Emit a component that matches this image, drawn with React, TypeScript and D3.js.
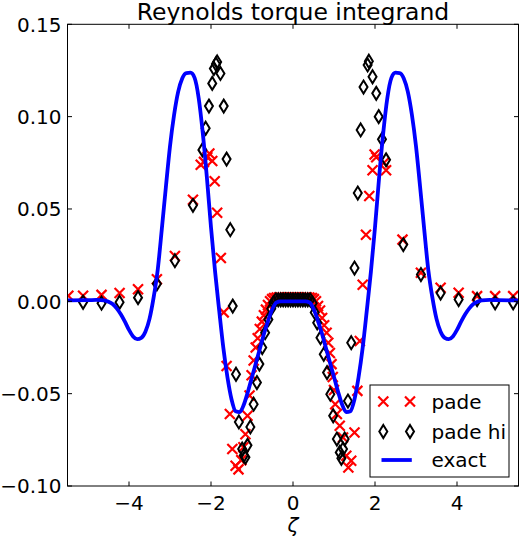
import * as d3 from 'd3';

// exact curve
const exactX = [
  -5.5, -5.0, -4.8, -4.6, -4.5, -4.4, -4.3, -4.2, -4.1, -4.0, -3.9, -3.8, -3.7, -3.6, -3.5, -3.4, -3.3, -3.2, -3.1, -3.0,
  -2.9, -2.8, -2.7, -2.6, -2.5, -2.4, -2.3, -2.2, -2.1, -2.0, -1.9, -1.8, -1.7, -1.6, -1.5, -1.4, -1.3, -1.2, -1.1, -1.0,
  -0.9, -0.8, -0.7, -0.6, -0.5, -0.4, -0.3, 0.0, 0.3, 0.4, 0.5, 0.6, 0.7, 0.8, 0.9, 1.0, 1.1, 1.2, 1.3, 1.4, 1.5, 1.6,
  1.7, 1.8, 1.9, 2.0, 2.1, 2.2, 2.3, 2.4, 2.5, 2.6, 2.7, 2.8, 2.9, 3.0, 3.1, 3.2, 3.3, 3.4, 3.5, 3.6, 3.7, 3.8, 3.9,
  4.0, 4.1, 4.2, 4.3, 4.4, 4.5, 4.6, 4.8, 5.0, 5.5,
];
const exactY = [
  0.0005, 0.0006, 0.0008, 0.0005, -0.0002, -0.0015, -0.0038, -0.007, -0.011, -0.0155, -0.019, -0.0205, -0.0198, -0.0165, -0.0095, 0.002, 0.017, 0.039, 0.062, 0.084,
  0.101, 0.1135, 0.1208, 0.1236, 0.1238, 0.121, 0.11, 0.091, 0.067, 0.04, 0.016, -0.005, -0.025, -0.041, -0.053, -0.0595, -0.06, -0.056, -0.049, -0.041,
  -0.033, -0.025, -0.017, -0.01, -0.004, -0.0006, 0.0, 0.0, 0.0, -0.0006, -0.004, -0.01, -0.017, -0.025, -0.033, -0.041, -0.049, -0.056, -0.06, -0.0595, -0.053, -0.041,
  -0.025, -0.005, 0.016, 0.04, 0.067, 0.091, 0.11, 0.121, 0.1238, 0.1236, 0.1208, 0.1135, 0.101, 0.084, 0.062, 0.039, 0.017, 0.002, -0.0095, -0.0165, -0.0198, -0.0205, -0.019,
  -0.0155, -0.011, -0.007, -0.0038, -0.0015, -0.0002, 0.0005, 0.0008, 0.0006, 0.0005,
];

// pade (red crosses)
const padeX = [
  -5.48, -5.12, -4.67, -4.23, -3.78, -3.32, -2.88, -2.44, -2.25, -2.17, -2.09, -2.04, -1.97, -1.91, -1.85, -1.76, -1.69, -1.62,
  -1.54, -1.48, -1.4, -1.33, -1.26, -1.21, -1.16, -1.11, -1.06, -1.01, -0.96, -0.91, -0.86, -0.81, -0.76, -0.71, -0.66, -0.61,
  -0.56, -0.51, -0.46, -0.4, -0.35, -0.3, -0.25, -0.2, -0.15, -0.1, -0.05, 0.0, 0.05, 0.1, 0.15, 0.2, 0.25, 0.3, 0.35, 0.4,
  0.46, 0.51, 0.56, 0.61, 0.66, 0.71, 0.76, 0.82, 0.86, 0.9, 0.94, 0.97, 1.0, 1.03, 1.07, 1.14, 1.22, 1.3, 1.35, 1.42, 1.5,
  1.57, 1.63, 1.7, 1.78, 1.86, 1.94, 1.99, 2.03, 2.22, 2.27, 2.67, 3.12, 3.6, 4.04, 4.49, 4.93, 5.37,
];
const padeY = [
  0.003, 0.003, 0.0035, 0.0045, 0.0065, 0.012, 0.0245, 0.055, 0.074, 0.0755, 0.078, 0.08, 0.076, 0.065, 0.048, 0.0235, -0.006, -0.035,
  -0.061, -0.08, -0.089, -0.091, -0.086, -0.079, -0.072, -0.062, -0.051, -0.04, -0.032, -0.025, -0.02, -0.015, -0.011, -0.0075, -0.0045, -0.002,
  0.0, 0.0012, 0.0018, 0.002, 0.002, 0.002, 0.002, 0.002, 0.002, 0.002, 0.002, 0.002, 0.002, 0.002, 0.002, 0.002, 0.002, 0.002, 0.002, 0.002,
  0.0018, 0.0012, 0.0, -0.0025, -0.005, -0.009, -0.013, -0.017, -0.0224, -0.028, -0.034, -0.041, -0.048, -0.0557, -0.061, -0.0674, -0.0737, -0.0836, -0.09, -0.0863, -0.071,
  -0.0485, -0.0215, 0.009, 0.036, 0.057, 0.071, 0.0795, 0.078, 0.075, 0.071, 0.0334, 0.0155, 0.0073, 0.0046, 0.0028, 0.0028, 0.0028,
];

// pade hi (black thin diamonds)
const padeHiX = [
  -5.12, -4.67, -4.23, -3.78, -3.32, -2.88, -2.44, -2.21, -2.13, -2.05, -1.97, -1.93, -1.88, -1.85, -1.77, -1.69, -1.62, -1.53,
  -1.47, -1.39, -1.32, -1.24, -1.2, -1.16, -1.11, -1.04, -0.96, -0.88, -0.82, -0.75, -0.68, -0.6, -0.53, -0.48,
  -0.42, -0.36, -0.3, -0.24, -0.18, -0.12, -0.06, 0.0, 0.06, 0.12, 0.18, 0.24, 0.3, 0.36, 0.42,
  0.48, 0.53, 0.59, 0.67, 0.75, 0.83, 0.91, 0.98, 1.07, 1.14, 1.18, 1.22, 1.26, 1.34, 1.42, 1.5, 1.58, 1.65, 1.72, 1.82,
  1.85, 1.94, 2.03, 2.09, 2.17, 2.27, 2.69, 3.12, 3.6, 4.04, 4.49, 4.93, 5.37,
];
const padeHiY = [
  -0.0005, -0.001, -0.0005, 0.002, 0.0095, 0.022, 0.052, 0.082, 0.0937, 0.1057, 0.118, 0.126, 0.1285, 0.1296, 0.1234, 0.1057, 0.077, 0.0388,
  -0.0026, -0.0395, -0.0653, -0.08, -0.0835, -0.0845, -0.078, -0.068, -0.0557, -0.044, -0.034, -0.025, -0.017, -0.0098, -0.004, -0.0008,
  0.0008, 0.0008, 0.0008, 0.0008, 0.0008, 0.0008, 0.0008, 0.0008, 0.0008, 0.0008, 0.0008, 0.0008, 0.0008, 0.0008, 0.0008,
  -0.001, -0.006, -0.0116, -0.0197, -0.0287, -0.0386, -0.0503, -0.062, -0.0746, -0.0818, -0.085, -0.08, -0.0746, -0.054, -0.0224, 0.018, 0.0586, 0.0928, 0.116, 0.128,
  0.13, 0.1216, 0.1126, 0.1, 0.0877, 0.0766, 0.0307, 0.0145, 0.0045, 0.001, 0.001, -0.0008, -0.0008,
];

const xTicks = [-4, -2, 0, 2, 4];
const yTicks = [-0.1, -0.05, 0.0, 0.05, 0.1, 0.15];
const legendLabels = ['pade', 'pade hi', 'exact'];

const W = 520;
const H = 541;
const FONT = '"DejaVu Sans", sans-serif';

const crossPath = (s: number) => `M${-s},${-s}L${s},${s}M${-s},${s}L${s},${-s}`;
const diamondPath = (w: number, h: number) => `M0,${-h}L${w},0L0,${h}L${-w},0Z`;

export default function App() {
  const x = d3.scaleLinear().domain([-5.5, 5.5]).range([67.5, 518.5]);
  const y = d3.scaleLinear().domain([-0.1, 0.15]).range([486, 24.3]);
  const [x0, x1] = x.range();
  const [y0, y1] = y.range();

  const line = d3
    .line<number>()
    .x((_, i) => x(exactX[i]))
    .y((d) => y(d))
    .curve(d3.curveMonotoneX);

  const fy = d3.format('.2f');
  const fx = d3.format('d');
  const tick = 4.5;

  // legend box
  const lg = { x: 370, y: 385, w: 139, h: 92 };
  const rows = [401.5, 431.5, 460];

  return (
    <>
      <style>{'body{margin:0}'}</style>
      <svg width={W} height={H} style={{ display: 'block', fontFamily: FONT }}>
        <rect width={W} height={H} fill="white" />
        <defs>
          <clipPath id="plot">
            <rect x={x0} y={y1} width={x1 - x0} height={y0 - y1} />
          </clipPath>
        </defs>

        <g clipPath="url(#plot)">
          {padeX.map((d, i) => (
            <path
              key={'p' + i}
              d={crossPath(5)}
              transform={`translate(${x(d)},${y(padeY[i])})`}
              stroke="#ff0000"
              strokeWidth={2.2}
              fill="none"
            />
          ))}
          {padeHiX.map((d, i) => (
            <path
              key={'h' + i}
              d={diamondPath(4, 6.5)}
              transform={`translate(${x(d)},${y(padeHiY[i])})`}
              stroke="black"
              strokeWidth={2}
              fill="none"
            />
          ))}
          <path d={line(exactY) || ''} fill="none" stroke="#0000ff" strokeWidth={3.8} />
        </g>

        {/* frame */}
        <rect x={x0} y={y1} width={x1 - x0} height={y0 - y1} fill="none" stroke="black" strokeWidth={1} />

        {/* x ticks */}
        {xTicks.map((t) => (
          <g key={'xt' + t}>
            <line x1={x(t)} x2={x(t)} y1={y0} y2={y0 - tick} stroke="black" />
            <line x1={x(t)} x2={x(t)} y1={y1} y2={y1 + tick} stroke="black" />
            <text x={x(t)} y={509.5} fontSize={20} textAnchor="middle">
              {fx(t)}
            </text>
          </g>
        ))}
        {/* y ticks */}
        {yTicks.map((t) => (
          <g key={'yt' + t}>
            <line x1={x0} x2={x0 + tick} y1={y(t)} y2={y(t)} stroke="black" />
            <line x1={x1} x2={x1 - tick} y1={y(t)} y2={y(t)} stroke="black" />
            <text x={61.5} y={y(t) + 7.3} fontSize={20} textAnchor="end">
              {fy(t)}
            </text>
          </g>
        ))}

        <text x={(x0 + x1) / 2} y={19.5} fontSize={23.5} textAnchor="middle">
          Reynolds torque integrand
        </text>
        <text x={(x0 + x1) / 2} y={532} fontSize={20} fontStyle="italic" textAnchor="middle">
          ζ
        </text>

        {/* legend */}
        <rect x={lg.x} y={lg.y} width={lg.w} height={lg.h} fill="white" stroke="black" strokeWidth={1} />
        {[383.3, 410].map((mx) => (
          <path
            key={'lp' + mx}
            d={crossPath(5)}
            transform={`translate(${mx},${rows[0]})`}
            stroke="#ff0000"
            strokeWidth={2.2}
            fill="none"
          />
        ))}
        {[383.3, 410].map((mx) => (
          <path
            key={'lh' + mx}
            d={diamondPath(4, 6.5)}
            transform={`translate(${mx},${rows[1]})`}
            stroke="black"
            strokeWidth={2}
            fill="none"
          />
        ))}
        <line x1={381.5} x2={411.8} y1={rows[2]} y2={rows[2]} stroke="#0000ff" strokeWidth={3.8} />
        {legendLabels.map((l, i) => (
          <text key={l} x={431.5} y={rows[i] + 7} fontSize={20}>
            {l}
          </text>
        ))}
      </svg>
    </>
  );
}
